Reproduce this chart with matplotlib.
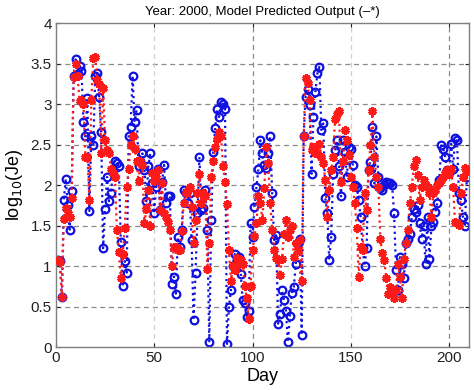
import numpy as np
import matplotlib
matplotlib.use("Agg")
import matplotlib.pyplot as plt
from matplotlib.ticker import FuncFormatter

# observed (blue circles) and model predicted (red stars), one value per day
days = np.arange(1, 210)

observed = [
    1.07, 1.06, 0.62, 1.81, 2.08, 1.75, 1.45, 1.93, 3.35, 3.55,
    3.37, 3.47, 3.41, 2.78, 2.60, 3.08, 1.68, 2.60, 2.50, 3.35,
    3.38, 3.09, 2.66, 1.22, 1.70, 2.10, 1.80, 1.90, 2.17, 2.30,
    2.27, 2.23, 1.30, 0.75, 1.06, 0.92, 2.60, 2.72, 3.35, 2.78,
    2.93, 2.24, 2.30, 2.39, 2.19, 1.80, 2.23, 2.39, 2.02, 1.65,
    1.98, 2.20, 1.69, 2.04, 2.25, 1.78, 1.86, 1.86, 0.78, 0.87,
    0.66, 1.36, 1.24, 1.45, 1.94, 1.90, 1.78, 1.90, 1.32, 0.33,
    0.91, 1.65, 2.35, 1.69, 1.72, 1.94, 1.45, 0.06, 1.57, 2.41,
    2.70, 2.94, 2.84, 3.03, 3.00, 2.94, 0.04, 0.49, 0.70, 1.00,
    1.15, 1.07, 1.11, 0.90, 0.58, 0.54, 0.37, 0.44, 1.53, 1.36,
    1.73, 1.98, 2.20, 2.55, 2.39, 2.25, 2.21, 2.39, 2.60, 1.90,
    1.32, 1.38, 0.29, 0.41, 0.70, 0.58, 0.45, 0.06, 0.39, 0.67,
    0.74, 1.03, 1.28, 1.34, 0.15, 2.60, 3.09, 3.19, 2.99, 2.14,
    2.84, 3.15, 3.38, 3.46, 2.68, 2.76, 1.84, 1.65, 1.08, 1.36,
    2.14, 2.43, 2.55, 2.23, 1.86, 2.55, 2.41, 2.10, 2.47, 2.45,
    2.25, 2.00, 1.98, 1.82, 1.60, 1.22, 1.00, 1.22, 2.19, 2.29,
    2.72, 2.02, 2.60, 2.10, 1.96, 1.94, 2.00, 2.04, 2.02, 2.02,
    2.00, 1.65, 0.95, 0.71, 1.11, 1.03, 0.85, 1.28, 1.33, 1.40,
    1.60, 1.71, 1.67, 1.75, 1.53, 1.34, 1.49, 1.03, 1.60, 1.09,
    1.49, 1.55, 1.67, 1.78, 2.06, 2.49, 2.45, 2.35, 2.19, 2.15,
    2.51, 2.20, 2.58, 2.55, 1.90, 1.82, 1.61, 1.49, 2.10,
]

predicted = [
    1.07, 1.05, 0.62, 1.58, 1.72, 1.66, 1.60, 1.84, 3.33, 3.50,
    3.35, 3.04, 3.05, 3.00, 2.35, 2.35, 1.82, 3.05, 3.57, 3.58,
    3.30, 3.25, 2.40, 3.20, 2.55, 2.43, 2.40, 2.20, 2.15, 2.10,
    1.45, 1.17, 0.85, 1.15, 1.47, 1.98, 2.20, 2.50, 2.60, 2.45,
    2.30, 2.05, 2.30, 2.25, 1.53, 1.70, 1.94, 1.50, 2.15, 2.05,
    2.10, 2.19, 1.69, 2.02, 1.65, 1.61, 1.55, 1.45, 1.00, 1.24,
    1.24, 1.20, 1.20, 1.43, 1.78, 1.90, 1.94, 1.98, 1.73, 1.28,
    1.57, 1.90, 2.14, 1.78, 1.90, 1.86, 0.97, 1.28, 2.10, 2.30,
    2.47, 2.57, 2.66, 2.60, 2.23, 2.04, 1.77, 1.20, 0.82, 1.00,
    0.95, 1.10, 1.03, 1.07, 1.03, 0.76, 0.60, 0.35, 0.76, 1.20,
    1.37, 1.53, 1.86, 1.78, 1.57, 1.96, 2.47, 2.27, 1.78, 1.45,
    1.20, 1.10, 1.07, 0.89, 1.09, 1.40, 1.57, 1.36, 1.45, 1.50,
    1.11, 1.28, 1.20, 1.32, 0.82, 2.60, 3.32, 3.26, 3.05, 2.43,
    2.47, 2.40, 2.39, 2.51, 2.35, 2.27, 2.06, 1.61, 1.94, 2.19,
    2.35, 2.82, 2.88, 2.92, 2.04, 2.30, 2.68, 2.55, 2.37, 2.10,
    1.98, 1.78, 1.47, 0.86, 1.24, 1.20, 1.90, 1.69, 2.19, 2.50,
    2.92, 2.35, 2.10, 1.98, 1.34, 1.16, 1.08, 0.85, 0.65, 0.74,
    0.66, 0.60, 0.70, 1.03, 0.86, 0.60, 1.09, 1.28, 1.45, 1.78,
    1.98, 2.23, 2.31, 2.12, 1.82, 1.98, 2.06, 2.00, 1.98, 1.90,
    1.61, 1.90, 1.94, 2.00, 2.02, 2.06, 2.10, 2.15, 2.19, 2.14,
    2.20, 1.98, 1.55, 1.53, 1.51, 1.90, 2.10, 2.21, 2.17,
]

x_ticks = [0, 50, 100, 150, 200]
y_ticks = [0, 0.5, 1, 1.5, 2, 2.5, 3, 3.5, 4]

plt.rcParams['font.family'] = ['Liberation Sans', 'DejaVu Sans']

fig = plt.figure(figsize=(4.74, 3.9), dpi=100)
ax = fig.add_axes([0.118, 0.110, 0.871, 0.831])

# grid, MATLAB style: horizontal dashed, verticals alternating shade
for yv in y_ticks[1:-1]:
    ax.axhline(yv, color='#8a8a8a', ls=(0, (4, 3)), lw=0.9, zorder=0)
for xv in x_ticks[1:]:
    c = '#8a8a8a' if xv % 100 == 0 else '#cfcfcf'
    ax.axvline(xv, color=c, ls=(0, (4, 3)), lw=0.9, zorder=0)

ax.plot(days, observed, color='#1010e0', ls=':', lw=1.6,
        marker='o', ms=5.5, mfc='none', mec='#1010e0', mew=1.6, zorder=2)
ax.plot(days, predicted, color='#ff1a1a', ls=':', lw=1.6,
        marker=(6, 2, 0), ms=6, mec='#ff1a1a', mew=2.2, zorder=3)

ax.set_xlim(0, 210)
ax.set_ylim(0, 4)
ax.set_xticks(x_ticks)
ax.set_yticks(y_ticks)
ax.yaxis.set_major_formatter(FuncFormatter(lambda v, p: f"{v:g}"))
ax.tick_params(direction='in', length=3, labelsize=11, colors='#222222',
               top=True, right=True, pad=3)
for s in ax.spines.values():
    s.set_color('#7f7f7f')
    s.set_linewidth(1.0)

ax.set_title("Year: 2000, Model Predicted Output (\u2013*)", fontsize=9.5, pad=6)
ax.set_xlabel("Day", fontsize=13, labelpad=2)
ax.set_ylabel("log$_{10}$(Je)", fontsize=13, labelpad=4)

fig.savefig("out.png", dpi=100)
